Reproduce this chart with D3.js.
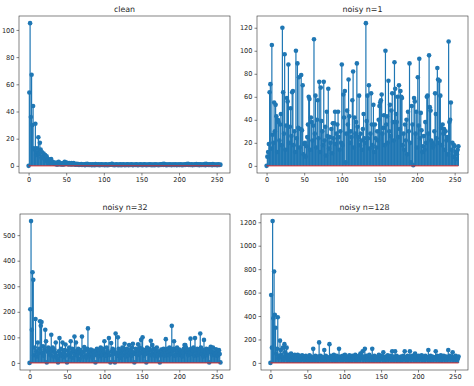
<!DOCTYPE html>
<html>
<head>
<meta charset="utf-8">
<script src="https://cdn.jsdelivr.net/npm/d3@7"></script>
<style>
  body { margin: 0; background: #fff; }
  text { font-family: "DejaVu Sans", sans-serif; fill: #262626; }
</style>
</head>
<body>
<svg id="chart" width="474" height="386"></svg>
<script>
// values, 256 bins per panel
var clean = [
  0, 54, 105, 36, 67, 30, 44, 13, 12, 31, 8, 13, 10, 21, 9, 17,
  12, 6, 10, 7, 9, 5, 8, 4, 7, 3, 5, 2, 4, 3, 5, 2,
  3, 2, 2.5, 1.5, 2, 1, 2.5, 1, 3, 1.5, 2, 1, 1.5, 1, 2, 1,
  3, 2, 2.5, 1.5, 2, 1, 2, 1.5, 1, 2, 1, 1.5, 2, 1, 1.2, 0.8,
  1.5, 1, 1.3, 0.7, 1.2, 0.9, 1.4, 0.6, 1, 0.8, 1.1, 0.5, 1.3, 0.9, 1.6, 0.7,
  1, 0.6, 1.2, 0.8, 0.5, 1.1, 0.7, 1, 0.4, 1.3, 0.8, 0.6, 1, 1.2, 0.5, 0.9,
  0.7, 1.1, 0.6, 1, 0.8, 0.4, 1.2, 0.7, 0.9, 0.5, 1, 0.6, 1.1, 0.8, 1.3, 1.5,
  0.7, 0.9, 0.5, 1, 0.6, 1.2, 0.8, 0.4, 1, 0.7, 1.1, 0.5, 0.9, 0.6, 1.2, 0.8,
  0.5, 1, 0.7, 0.9, 1.1, 0.4, 0.8, 1, 0.6, 1.2, 0.7, 0.5, 1, 0.8, 0.6, 1.1,
  0.9, 0.5, 0.7, 1, 0.6, 1.2, 0.8, 0.4, 1, 0.7, 1.1, 0.6, 0.9, 0.5, 1, 0.8,
  0.6, 1.1, 0.7, 0.9, 0.5, 1, 0.8, 0.4, 1.2, 0.7, 0.9, 0.6, 1, 0.5, 0.8, 1.1,
  0.7, 0.9, 1.3, 0.6, 1.6, 0.8, 1.2, 0.5, 0.9, 0.7, 1, 0.6, 1.1, 0.8, 0.5, 0.9,
  1, 0.7, 0.6, 1.2, 0.8, 0.5, 0.9, 1, 0.7, 0.6, 1.1, 0.8, 0.5, 1, 0.7, 0.9,
  0.6, 1.1, 1.4, 0.8, 1.5, 0.7, 1, 0.6, 0.9, 1.2, 0.5, 0.8, 1, 0.7, 1.1, 1.3,
  0.6, 0.9, 1.2, 0.5, 1.1, 0.8, 0.7, 1, 0.6, 0.9, 1.3, 0.5, 1.5, 0.8, 1, 0.7,
  1.2, 0.6, 0.9, 1.1, 0.5, 1.4, 0.8, 0.7, 1, 0.6, 0.9, 0.5, 1.2, 0.8, 0.6, 0.9
];

var noisy1 = [
  0, 8, 12, 19, 64, 71, 15, 105, 27, 20, 55, 30, 53, 43, 12, 40,
  38, 22, 36, 45, 18, 120, 64, 28, 97, 14, 35, 59, 56, 88, 20, 34,
  50, 26, 64, 65, 18, 30, 12, 100, 24, 89, 33, 77, 16, 32, 79, 31,
  70, 10, 19, 20, 8, 17, 25, 36, 60, 58, 14, 42, 38, 22, 35, 110,
  28, 61, 16, 40, 57, 24, 73, 12, 68, 39, 30, 18, 73, 22, 34, 9,
  47, 26, 67, 15, 25, 20, 32, 11, 37, 24, 37, 47, 19, 28, 36, 47,
  25, 14, 30, 20, 88, 18, 62, 42, 65, 3, 28, 48, 36, 75, 43, 20,
  30, 25, 57, 82, 16, 42, 28, 38, 89, 34, 25, 61, 18, 28, 22, 14,
  32, 45, 24, 20, 124, 39, 61, 24, 70, 15, 28, 63, 36, 18, 53, 12,
  36, 24, 16, 30, 22, 40, 52, 55, 57, 62, 28, 33, 44, 18, 100, 36,
  43, 20, 74, 30, 53, 26, 48, 63, 38, 22, 90, 67, 45, 38, 60, 25,
  70, 32, 65, 60, 59, 18, 28, 14, 36, 22, 40, 10, 47, 30, 89, 20,
  3, 52, 36, 0.5, 59, 56, 28, 47, 16, 77, 35, 93, 24, 46, 31, 12,
  17, 26, 14, 38, 20, 60, 61, 28, 96, 51, 48, 22, 20, 16, 18, 30,
  63, 45, 24, 85, 75, 20, 74, 61, 33, 18, 36, 28, 32, 14, 30, 22,
  25, 10, 108, 38, 40, 55, 14, 20, 8, 18, 17, 12, 6, 10, 14, 17
];

var noisy32 = [
  0, 210, 555, 130, 355, 325, 30, 60, 172, 45, 25, 80, 38, 55, 163, 145,
  160, 40, 65, 28, 52, 130, 85, 2, 45, 60, 38, 55, 30, 110, 48, 60,
  25, 52, 40, 80, 30, 18, 2, 45, 97, 35, 55, 28, 80, 40, 22, 50,
  72, 30, 2, 48, 35, 60, 25, 85, 40, 55, 20, 48, 103, 32, 80, 45,
  28, 55, 40, 15, 50, 35, 103, 42, 25, 62, 48, 30, 20, 55, 135, 38,
  45, 28, 52, 35, 20, 48, 40, 30, 2, 45, 55, 35, 25, 50, 38, 60,
  42, 30, 55, 45, 85, 35, 28, 60, 48, 40, 97, 30, 2, 78, 45, 55,
  35, 50, 2, 115, 40, 28, 100, 55, 42, 20, 48, 35, 60, 30, 50, 75,
  40, 25, 55, 45, 30, 70, 38, 50, 28, 60, 75, 42, 2, 35, 55, 48,
  30, 73, 45, 60, 38, 90, 55, 100, 40, 28, 50, 35, 2, 60, 45, 38,
  55, 30, 87, 48, 70, 35, 55, 28, 50, 40, 60, 25, 45, 38, 2, 30,
  52, 40, 35, 55, 28, 48, 93, 38, 55, 42, 30, 60, 48, 35, 145, 48,
  55, 85, 28, 50, 38, 60, 45, 30, 52, 35, 48, 40, 25, 40, 55, 70,
  70, 60, 45, 38, 30, 52, 40, 95, 55, 35, 48, 60, 28, 97, 45, 38,
  55, 30, 48, 40, 115, 60, 35, 50, 25, 90, 38, 45, 55, 30, 48, 40,
  2, 55, 63, 45, 30, 60, 42, 38, 35, 53, 28, 40, 30, 50, 35, 2
];

var noisy128 = [
  0, 580, 130, 1210, 380, 780, 410, 300, 80, 120, 390, 40, 60, 190, 110, 70,
  50, 130, 30, 160, 90, 60, 130, 45, 70, 25, 55, 40, 80, 35, 60, 20,
  45, 70, 30, 55, 25, 70, 40, 60, 20, 50, 35, 65, 30, 55, 40, 25,
  60, 35, 50, 20, 45, 65, 30, 55, 40, 25, 120, 45, 30, 60, 35, 50,
  25, 55, 175, 40, 60, 30, 50, 20, 45, 110, 35, 60, 25, 50, 40, 30,
  160, 45, 60, 30, 55, 25, 70, 40, 50, 20, 60, 35, 45, 120, 30, 55,
  40, 25, 60, 45, 30, 70, 35, 55, 20, 50, 40, 65, 30, 45, 25, 60,
  35, 50, 40, 70, 25, 55, 45, 30, 60, 35, 80, 50, 40, 100, 55, 30,
  120, 45, 60, 35, 50, 25, 70, 40, 55, 30, 120, 45, 20, 60, 35, 50,
  40, 25, 55, 70, 30, 45, 60, 35, 50, 90, 40, 25, 55, 45, 30, 65,
  35, 50, 40, 60, 25, 100, 45, 55, 30, 100, 40, 60, 25, 50, 35, 45,
  20, 55, 40, 30, 60, 45, 100, 35, 50, 25, 60, 40, 55, 100, 30, 45,
  60, 35, 50, 40, 80, 25, 55, 45, 30, 60, 40, 50, 35, 65, 25, 45,
  55, 30, 60, 40, 50, 35, 110, 45, 25, 60, 40, 55, 30, 50, 45, 35,
  100, 40, 60, 30, 55, 45, 35, 65, 25, 50, 40, 60, 35, 45, 55, 30,
  50, 110, 40, 60, 35, 55, 45, 90, 30, 50, 40, 60, 25, 45, 35, 55
];

var titles = ["clean", "noisy n=1", "noisy n=32", "noisy n=128"];
var xTicks = [0, 50, 100, 150, 200, 250];
var yTicks = [
  [0, 20, 40, 60, 80, 100],
  [0, 20, 40, 60, 80, 100, 120],
  [0, 100, 200, 300, 400, 500],
  [0, 200, 400, 600, 800, 1000, 1200]
];

var panels = [
  {data: clean,    box: [19, 16, 230, 173]},
  {data: noisy1,   box: [257, 16, 468, 173]},
  {data: noisy32,  box: [20, 214, 230, 370]},
  {data: noisy128, box: [261, 214, 468, 370]}
];

var blue = "#1f77b4", red = "#d62728";
var svg = d3.select("#chart");

panels.forEach(function(p, i) {
  var b = p.box;
  var n = p.data.length;
  var ymax = d3.max(p.data), ypad = ymax * 0.05;
  var xpad = (n - 1) * 0.05;

  var x = d3.scaleLinear().domain([-xpad, n - 1 + xpad]).range([b[0], b[2]]);
  var y = d3.scaleLinear().domain([-ypad, ymax + ypad]).range([b[3], b[1]]);

  var g = svg.append("g");

  // stems
  g.append("g").selectAll("line")
      .data(p.data)
    .enter().append("line")
      .attr("x1", function(d, k) { return x(k); })
      .attr("x2", function(d, k) { return x(k); })
      .attr("y1", y(0))
      .attr("y2", function(d) { return y(d); })
      .attr("stroke", blue)
      .attr("stroke-width", 1.2);

  // markers
  g.append("g").selectAll("circle")
      .data(p.data)
    .enter().append("circle")
      .attr("cx", function(d, k) { return x(k); })
      .attr("cy", function(d) { return y(d); })
      .attr("r", 2.3)
      .attr("fill", blue);

  // baseline
  g.append("line")
      .attr("x1", x(0)).attr("x2", x(n - 1))
      .attr("y1", y(0)).attr("y2", y(0))
      .attr("stroke", red)
      .attr("stroke-width", 1);

  // axes
  var xAxis = d3.axisBottom(x).tickValues(xTicks).tickSize(2.5).tickPadding(2)
      .tickFormat(d3.format("d"));
  var yAxis = d3.axisLeft(y).tickValues(yTicks[i]).tickSize(2.5).tickPadding(2)
      .tickFormat(d3.format("d"));

  var gx = g.append("g").attr("transform", "translate(0," + b[3] + ")").call(xAxis);
  var gy = g.append("g").attr("transform", "translate(" + b[0] + ",0)").call(yAxis);
  [gx, gy].forEach(function(a) {
    a.select(".domain").remove();
    a.selectAll("line").attr("stroke", "#333").attr("stroke-width", 0.6);
    a.selectAll("text").style("font-size", "6.6px").style("font-family", "DejaVu Sans").attr("fill", "#262626");
  });

  // frame
  g.append("rect")
      .attr("x", b[0]).attr("y", b[1])
      .attr("width", b[2] - b[0]).attr("height", b[3] - b[1])
      .attr("fill", "none")
      .attr("stroke", "#333")
      .attr("stroke-width", 0.6);

  // title
  g.append("text")
      .attr("x", (b[0] + b[2]) / 2)
      .attr("y", b[1] - 4)
      .attr("text-anchor", "middle")
      .style("font-size", "7.9px")
      .text(titles[i]);
});
</script>
</body>
</html>
